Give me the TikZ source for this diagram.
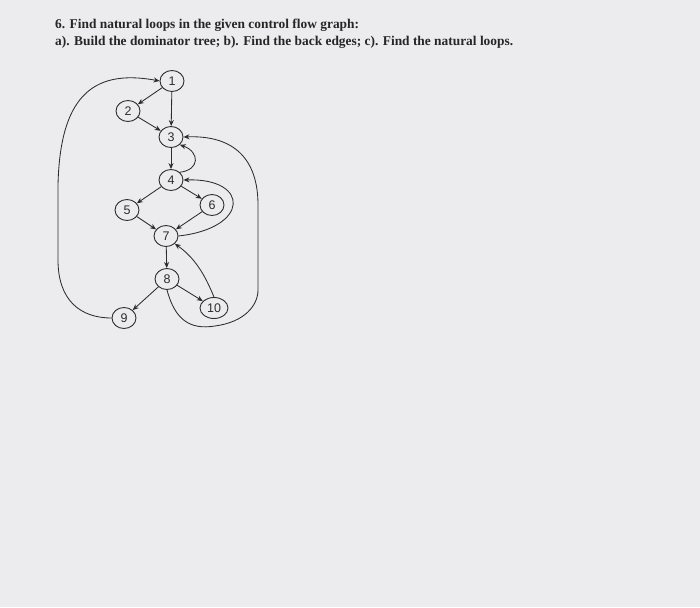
\documentclass[tikz,border=0pt]{standalone}
\usepackage{fontspec}
\setmainfont{Liberation Serif}
\setsansfont{Liberation Sans}
\usetikzlibrary{shapes.geometric,arrows.meta}
\definecolor{paper}{RGB}{236,236,238}
\definecolor{ink}{RGB}{45,45,48}
\tikzset{
  vtx/.style={ellipse,draw=ink,line width=0.9pt,minimum width=24pt,minimum height=21pt,inner sep=0pt,font=\sffamily\fontsize{12.5}{12.5}\selectfont,text=ink},
  edge/.style={draw=ink,line width=0.85pt,-{Stealth[length=6pt,width=5pt]}},
  ttl/.style={anchor=base west,inner sep=0pt,font=\bfseries\fontsize{13.4}{14}\selectfont,text=black!85}
}
\begin{document}
\begin{tikzpicture}[x=1pt,y=-1pt]
\path[use as bounding box,fill=paper] (0,0) rectangle (700,607);
\node[ttl] (t1) at (55,29) {6. Find natural loops in the given control flow graph:};
\node[ttl] (t2) at (55,46) {a). Build the dominator tree; b). Find the back edges; c). Find the natural loops.};
\node[vtx] (n1) at (172,81) {1};
\node[vtx] (n2) at (128,111) {2};
\node[vtx] (n3) at (171,137) {3};
\node[vtx] (n4) at (171,180) {4};
\node[vtx] (n5) at (127,210) {5};
\node[vtx] (n6) at (212,205) {6};
\node[vtx] (n7) at (166,236) {7};
\node[vtx] (n8) at (167,279) {8};
\node[vtx] (n9) at (124,318) {9};
\node[vtx,minimum width=28pt] (n10) at (214,308) {10};
\coordinate (l1) at (58,260);
\coordinate (l2) at (58,185);
\coordinate (r1) at (258,290);
\coordinate (r2) at (258,205);
\draw[edge] (n1) -- (n2);
\draw[edge] (n1) -- (n3);
\draw[edge] (n2) -- (n3);
\draw[edge] (n3) -- (n4);
\draw[edge] (n4.north east) .. controls (200,170) and (200,152) .. (n3.south east);
\draw[edge] (n4) -- (n5);
\draw[edge] (n4) -- (n6);
\draw[edge] (n5) -- (n7);
\draw[edge] (n6) -- (n7);
\draw[edge] (n7.east) .. controls (250,228) and (250,178) .. (n4.east);
\draw[edge] (n7) -- (n8);
\draw[edge] (n8) -- (n9);
\draw[edge] (n8) -- (n10);
\draw[edge] (n10.north) .. controls (205,275) and (195,258) .. (n7.south east);
\draw[edge] (n9.west) .. controls (80,318) and (58,300) .. (l1) -- (l2) .. controls (60,100) and (90,68) .. (n1.west);
\draw[edge] (n8.south) .. controls (175,320) and (190,330) .. (215,326) .. controls (245,322) and (258,305) .. (r1) -- (r2) .. controls (258,160) and (235,135) .. (n3.east);
\end{tikzpicture}
\end{document}
